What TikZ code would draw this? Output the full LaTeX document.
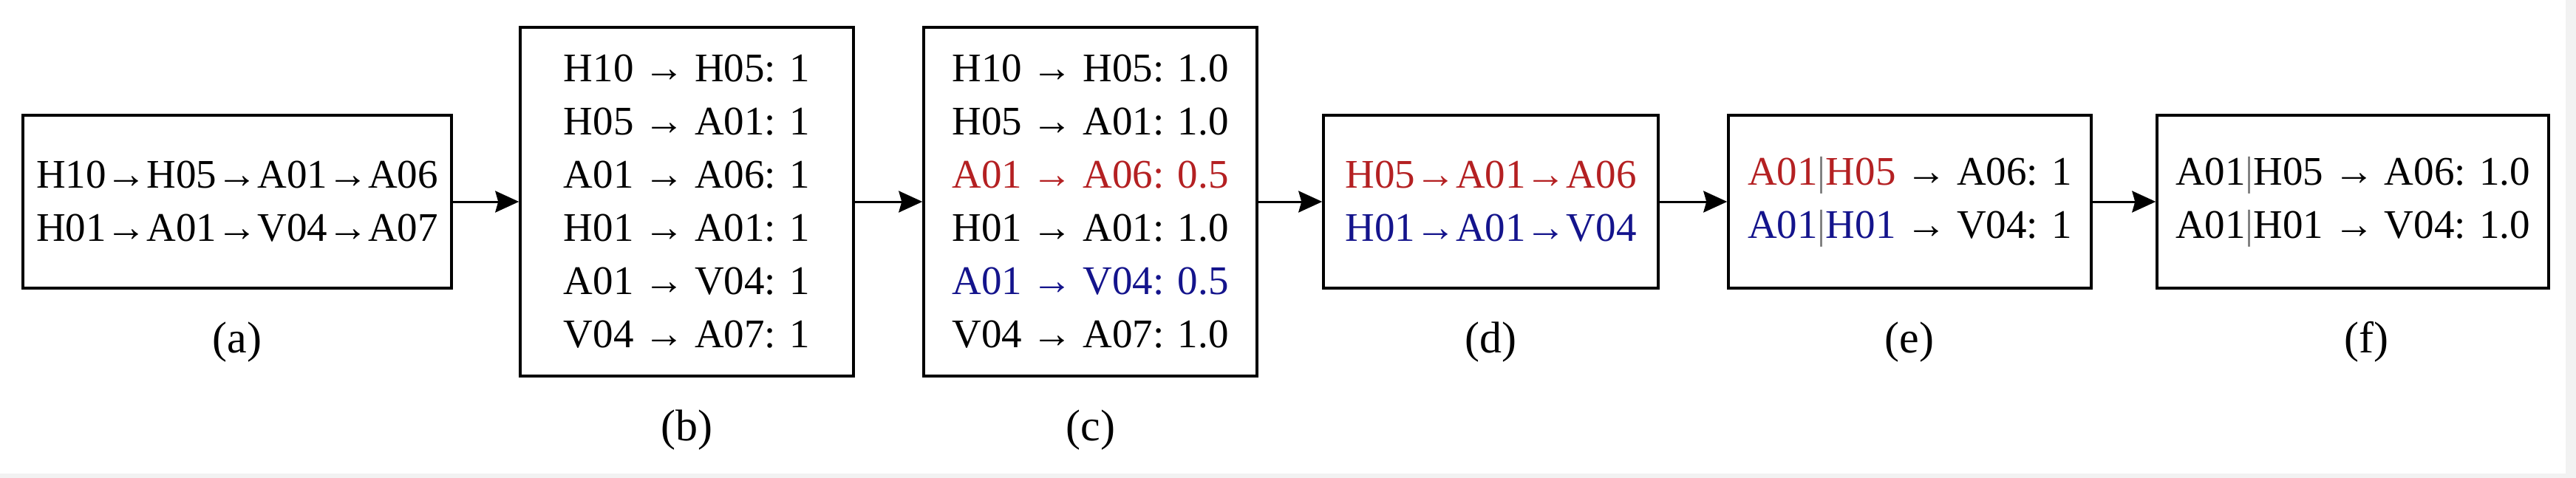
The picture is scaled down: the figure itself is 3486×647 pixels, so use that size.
\documentclass[tikz,border=0pt]{standalone}
\usepackage{fontspec}
\setmainfont{Liberation Serif}
\usetikzlibrary{arrows.meta}
\definecolor{myred}{RGB}{180,32,34}
\definecolor{myblue}{RGB}{20,20,140}
\definecolor{bargray}{RGB}{120,120,120}
\newcommand{\bsep}{\textcolor{bargray}{|}}
\begin{document}
\begin{tikzpicture}[x=1pt,y=-1pt,
  box/.style={draw, line width=3.5pt, inner sep=0pt, align=left,
    font=\fontsize{55}{72}\selectfont},
  lab/.style={inner sep=0pt, font=\fontsize{60}{70}\selectfont},
  conn/.style={line width=3pt, -{Stealth[length=32pt,width=29pt,inset=4pt]}}]
\useasboundingbox (0,0) rectangle (3486,647);
\fill[black!5] (3472,0) rectangle (3486,647);
\fill[black!5] (0,641) rectangle (3486,647);

\node[box, minimum width=580pt, minimum height=234pt] (a) at (321,273)
  {H10→H05→A01→A06\\H01→A01→V04→A07};
\node[box, minimum width=451pt, minimum height=472pt] (b) at (929.5,273)
  {H10 → H05: 1\\H05 → A01: 1\\A01 → A06: 1\\H01 → A01: 1\\A01 → V04: 1\\V04 → A07: 1};
\node[box, minimum width=451pt, minimum height=472pt] (c) at (1475.5,273)
  {H10 → H05: 1.0\\H05 → A01: 1.0\\\textcolor{myred}{A01 → A06: 0.5}\\H01 → A01: 1.0\\\textcolor{myblue}{A01 → V04: 0.5}\\V04 → A07: 1.0};
\node[box, minimum width=453pt, minimum height=234pt] (d) at (2017.5,273)
  {\textcolor{myred}{H05→A01→A06}\\\textcolor{myblue}{H01→A01→V04}};
\node[box, minimum width=491pt, minimum height=234pt] (e) at (2584.5,273)
  {\textcolor{myred}{A01}\bsep\textcolor{myred}{H05} → A06: 1\\\textcolor{myblue}{A01}\bsep\textcolor{myblue}{H01} → V04: 1};
\node[box, minimum width=530pt, minimum height=234pt] (f) at (3184,273)
  {A01\bsep H05 → A06: 1.0\\A01\bsep H01 → V04: 1.0};

\node[lab] (la) at (321,463) {(a)};
\node[lab] (lb) at (929,582) {(b)};
\node[lab] (lc) at (1476,582) {(c)};
\node[lab] (ld) at (2017,463) {(d)};
\node[lab] (le) at (2584,463) {(e)};
\node[lab] (lf) at (3202,463) {(f)};

\draw[conn] (a.east) -- (b.west);
\draw[conn] (b.east) -- (c.west);
\draw[conn] (c.east) -- (d.west);
\draw[conn] (d.east) -- (e.west);
\draw[conn] (e.east) -- (f.west);
\end{tikzpicture}
\end{document}
